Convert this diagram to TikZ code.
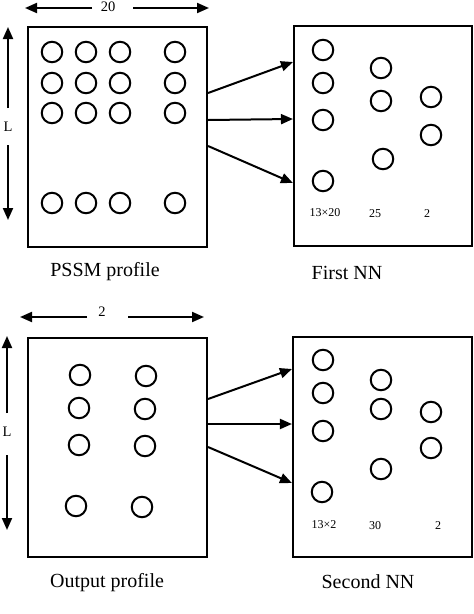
\documentclass[tikz,border=0pt]{standalone}
\usepackage{fontspec}
\setmainfont{Liberation Serif}
\usetikzlibrary{arrows.meta}
\tikzset{
  box/.style={draw, line width=2.1pt, inner sep=0pt},
  neuron/.style={draw, circle, line width=2pt, minimum size=20.5pt, inner sep=0pt},
  arr/.style={line width=2pt, -{Triangle[length=12pt,width=10pt]}},
  caption/.style={font=\fontsize{20}{22}\selectfont},
  dimlab/.style={font=\fontsize{14.5}{16}\selectfont, inner sep=1pt},
  laylab/.style={font=\fontsize{12}{13}\selectfont, inner sep=1pt}
}
\begin{document}
\begin{tikzpicture}[x=1pt,y=-1pt]
\useasboundingbox (0,0) rectangle (474,614);
% boxes
\node[box, minimum width=179pt, minimum height=220pt] (pssm) at (117.5,137) {};
\node[box, minimum width=178pt, minimum height=220pt] (nn1) at (383,136) {};
\node[box, minimum width=179pt, minimum height=219pt] (outp) at (117.5,447.5) {};
\node[box, minimum width=179pt, minimum height=220pt] (nn2) at (382.5,447) {};
% captions
\node[caption] (c1) at (105,272) {PSSM profile};
\node[caption] (c2) at (347,273) {First NN};
\node[caption] (c3) at (107,583) {Output profile};
\node[caption] (c4) at (368,582) {Second NN};
% top dimension arrows
\node[dimlab] (w1) at (108,7) {20};
\coordinate (w1l) at (25,8); \coordinate (w1r) at (209,8);
\coordinate (w1a) at (92,8); \coordinate (w1b) at (133,8);
\draw[arr] (w1a) -- (w1l);
\draw[arr] (w1b) -- (w1r);
\node[dimlab] (h1) at (8,127) {L};
\coordinate (h1t) at (8,27); \coordinate (h1d) at (8,220);
\coordinate (h1a) at (8,108); \coordinate (h1b) at (8,145);
\draw[arr] (h1a) -- (h1t);
\draw[arr] (h1b) -- (h1d);
% bottom dimension arrows
\node[dimlab] (w2) at (102,312) {2};
\coordinate (w2l) at (20,317); \coordinate (w2r) at (204,317);
\coordinate (w2a) at (87,317); \coordinate (w2b) at (128,317);
\draw[arr] (w2a) -- (w2l);
\draw[arr] (w2b) -- (w2r);
\node[dimlab] (h2) at (7,432) {L};
\coordinate (h2t) at (7,336); \coordinate (h2d) at (7,530);
\coordinate (h2a) at (7,413); \coordinate (h2b) at (7,455);
\draw[arr] (h2a) -- (h2t);
\draw[arr] (h2b) -- (h2d);
% PSSM circles
\foreach \x [count=\i] in {52,86,120,175}{
  \foreach \y [count=\j] in {52,83,113,203}{
    \node[neuron] (p\i\j) at (\x,\y) {};
  }
}
% output profile circles
\node[neuron] (o11) at (80,375) {};
\node[neuron] (o12) at (79,408) {};
\node[neuron] (o13) at (79,445) {};
\node[neuron] (o14) at (76,506) {};
\node[neuron] (o21) at (146,376) {};
\node[neuron] (o22) at (145,409) {};
\node[neuron] (o23) at (145,446) {};
\node[neuron] (o24) at (142,507) {};
% First NN circles
\node[neuron] (a1) at (323,50) {};
\node[neuron] (a2) at (323,83) {};
\node[neuron] (a3) at (323,120) {};
\node[neuron] (a4) at (323,181) {};
\node[neuron] (b1) at (381,68) {};
\node[neuron] (b2) at (381,101) {};
\node[neuron] (b3) at (383,159) {};
\node[neuron] (d1) at (431,97) {};
\node[neuron] (d2) at (431,135) {};
\node[laylab] (l1) at (325,213) {13×20};
\node[laylab] (l2) at (375,214) {25};
\node[laylab] (l3) at (427,214) {2};
% Second NN circles
\node[neuron] (e1) at (323,360) {};
\node[neuron] (e2) at (323,393) {};
\node[neuron] (e3) at (323,431) {};
\node[neuron] (e4) at (322,492) {};
\node[neuron] (f1) at (381,380) {};
\node[neuron] (f2) at (381,409) {};
\node[neuron] (f3) at (381,469) {};
\node[neuron] (g1) at (431,412) {};
\node[neuron] (g2) at (431,448) {};
\node[laylab] (m1) at (324,525) {13×2};
\node[laylab] (m2) at (375,526) {30};
\node[laylab] (m3) at (438,526) {2};
% connectors top
\coordinate (s1) at (pssm.east |- 0,93);
\coordinate (s2) at (pssm.east |- 0,120);
\coordinate (s3) at (pssm.east |- 0,146);
\coordinate (t1) at (nn1.west |- 0,62);
\coordinate (t2) at (nn1.west |- 0,119);
\coordinate (t3) at (nn1.west |- 0,183);
\draw[arr] (s1) -- (t1);
\draw[arr] (s2) -- (t2);
\draw[arr] (s3) -- (t3);
% connectors bottom
\coordinate (u1) at (outp.east |- 0,399);
\coordinate (u2) at (outp.east |- 0,424);
\coordinate (u3) at (outp.east |- 0,447);
\coordinate (v1) at (nn2.west |- 0,369);
\coordinate (v2) at (nn2.west |- 0,424);
\coordinate (v3) at (nn2.west |- 0,483);
\draw[arr] (u1) -- (v1);
\draw[arr] (u2) -- (v2);
\draw[arr] (u3) -- (v3);
\end{tikzpicture}
\end{document}
